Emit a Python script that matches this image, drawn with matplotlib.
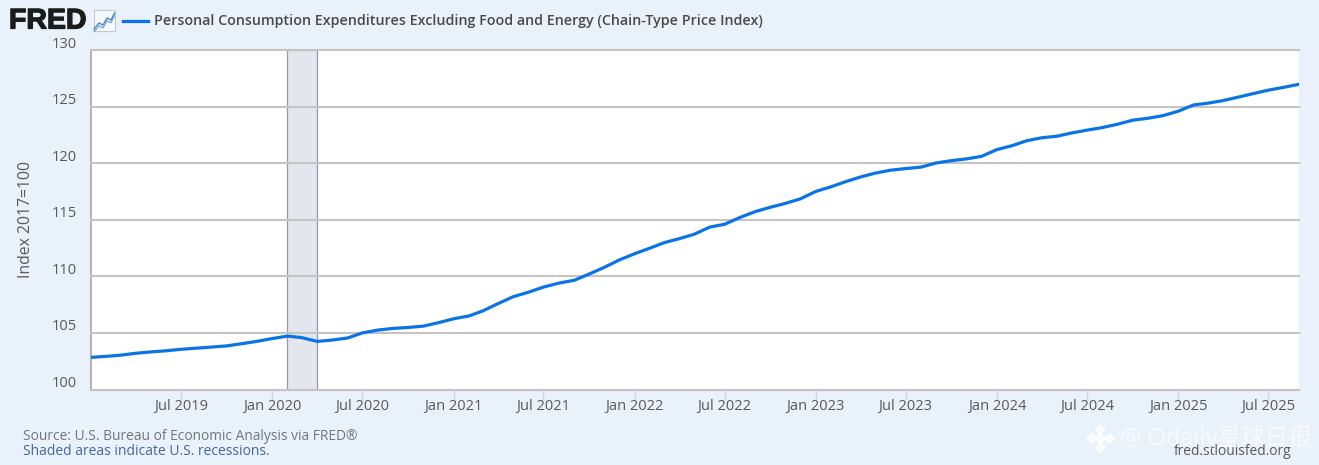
#!/usr/bin/python

import matplotlib
matplotlib.use('Agg')
import matplotlib.pyplot as plt
import matplotlib.patheffects as pe
from matplotlib.lines import Line2D
from matplotlib.patches import Rectangle
from matplotlib.transforms import ScaledTranslation
import numpy as np
import pandas as pd

######## DATA

dates = pd.date_range('2019-01-01', '2025-09-01', freq='MS')

values_2019 = [102.84, 102.93, 103.03, 103.2, 103.32, 103.42, 103.55, 103.65, 103.75, 103.85, 104.05, 104.25]
values_2020 = [104.5, 104.72, 104.58, 104.25, 104.37, 104.55, 105.0, 105.25, 105.4, 105.48, 105.6, 105.9]
values_2021 = [106.25, 106.5, 106.95, 107.6, 108.2, 108.6, 109.05, 109.4, 109.65, 110.2, 110.8, 111.45]
values_2022 = [112.0, 112.5, 112.97, 113.33, 113.72, 114.35, 114.6, 115.2, 115.72, 116.1, 116.45, 116.85]
values_2023 = [117.5, 117.92, 118.35, 118.78, 119.12, 119.38, 119.52, 119.65, 120.02, 120.22, 120.38, 120.6]
values_2024 = [121.2, 121.55, 121.98, 122.25, 122.38, 122.68, 122.92, 123.15, 123.45, 123.8, 123.97, 124.2]
values_2025 = [124.6, 125.15, 125.3, 125.53, 125.83, 126.15, 126.45, 126.7, 126.97]
pce_core = values_2019 + values_2020 + values_2021 + values_2022 + values_2023 + values_2024 + values_2025

y_ticks = [100, 105, 110, 115, 120, 125, 130]
x_ticks = pd.date_range('2019-07-01', '2025-07-01', freq='6MS')
x_labels = [d.strftime('%b %Y') for d in x_ticks]
recession_start = pd.Timestamp('2020-02-01')
recession_end = pd.Timestamp('2020-04-01')

series_title = 'Personal Consumption Expenditures Excluding Food and Energy (Chain-Type Price Index)'
y_title = 'Index 2017=100'
source_text = 'Source: U.S. Bureau of Economic Analysis via FRED\u00ae'
shaded_text = 'Shaded areas indicate U.S. recessions.'
site_text = 'fred.stlouisfed.org'
watermark_text = '@ Odaily\u661f\u7403\u65e5\u62a5'

######## STYLE

W, H = 1319, 465
BG = '#e9f1fa'
BLUE = '#0a74e6'
TEXT = '#595959'
plt.rcParams['font.family'] = ['Open Sans', 'Noto Sans CJK SC', 'DejaVu Sans']


def px(x, y):                                  # pixel position, from top left, to figure coords
  return x / W, 1 - y / H


fig = plt.figure(figsize=(W / 100, H / 100), dpi=100, facecolor=BG)
left, top = px(91, 50)
right, bottom = px(1299, 389.5)
ax = fig.add_axes([left, bottom, right - left, top - bottom], facecolor='white')

######## PLOT

ax.axvspan(recession_start, recession_end, facecolor='#e3e6ee', edgecolor='#9a9a9a', linewidth=0.9, zorder=1)
ax.grid(axis='y', color='#c4c4c4', linewidth=1.5, zorder=2)
ax.set_axisbelow(False)
ax.plot(dates, pce_core, color=BLUE, linewidth=2.3, solid_joinstyle='round', zorder=3)

ax.set_xlim(dates[0], dates[-1])
ax.set_ylim(100, 130)

ax.set_yticks(y_ticks)
ax.tick_params(axis='y', length=0, pad=10, labelsize=10.5, labelcolor=TEXT)
up = ScaledTranslation(0, 0.08, fig.dpi_scale_trans)
for label in ax.get_yticklabels():
  label.set_transform(label.get_transform() + up)

ax.set_xticks(x_ticks)
ax.set_xticklabels(x_labels)
ax.tick_params(axis='x', length=7, width=1, color='#ccd6eb', pad=-0.5, labelsize=10.5, labelcolor=TEXT)

for side in ['top', 'right']:
  ax.spines[side].set_visible(False)
ax.spines['left'].set_color('#a0a0a0')
ax.spines['left'].set_linewidth(1.1)
ax.spines['bottom'].set_color('#c0c6d4')
ax.spines['bottom'].set_linewidth(1.5)

# the 130 gridline sits on the top edge and should not be clipped
for line in ax.get_ygridlines():
  line.set_clip_on(False)

######## HEADER

fig.text(*px(9, 21.5), 'FRED', fontsize=20.5, fontweight='bold', color='#1b1b1b', va='center', family='Liberation Sans',
         path_effects=[pe.withStroke(linewidth=0.9, foreground='#1b1b1b')])
fig.add_artist(Rectangle(px(93.5, 31.5), 21 / W, 21 / H, transform=fig.transFigure, facecolor='#f5f8fc', edgecolor='#c8c8c8', linewidth=0.8))
for shift, shade in [(0, '#3d7fc4'), (4, '#6fa3d8')]:
  icon_x = np.array([94, 99, 103, 107, 111, 114.5])
  icon_y = np.array([29, 23, 25, 18, 20, 13]) + shift * 0.7
  fig.add_artist(Line2D(icon_x / W, 1 - icon_y / H, transform=fig.transFigure, color=shade, linewidth=0.9))
fig.add_artist(Line2D([123 / W, 148 / W], [1 - 21 / H] * 2, transform=fig.transFigure, color=BLUE, linewidth=2.3))
fig.text(*px(153.5, 21), series_title, fontsize=10.24, fontweight='semibold', color='#4a4a4a', va='center')

######## OTHER TEXT

fig.text(*px(26.5, 219.5), y_title, rotation=90, fontsize=11.3, color=TEXT, ha='center', va='center')
fig.text(*px(23, 436), source_text, fontsize=9.9, color='#6e7680', va='center')
fig.text(*px(23, 451), shaded_text, fontsize=10, color='#44689a', va='center')
fig.text(*px(1291, 451.5), site_text, fontsize=9.9, color=TEXT, va='center', ha='right')

# watermark across the lower right corner, a small diamond logo and its text
fig.text(*px(1120, 438), watermark_text, fontsize=17, color='white', alpha=0.7, va='center')
for dx, dy in [(0, -9), (9, 0), (0, 9), (-9, 0), (0, 0)]:
  fig.add_artist(Line2D([(1100 + dx) / W], [1 - (437.5 + dy) / H], transform=fig.transFigure, marker='D', markersize=5.5,
                        color='white', alpha=0.75, linestyle='none'))

fig.savefig('out.png', dpi=100, facecolor=BG)
